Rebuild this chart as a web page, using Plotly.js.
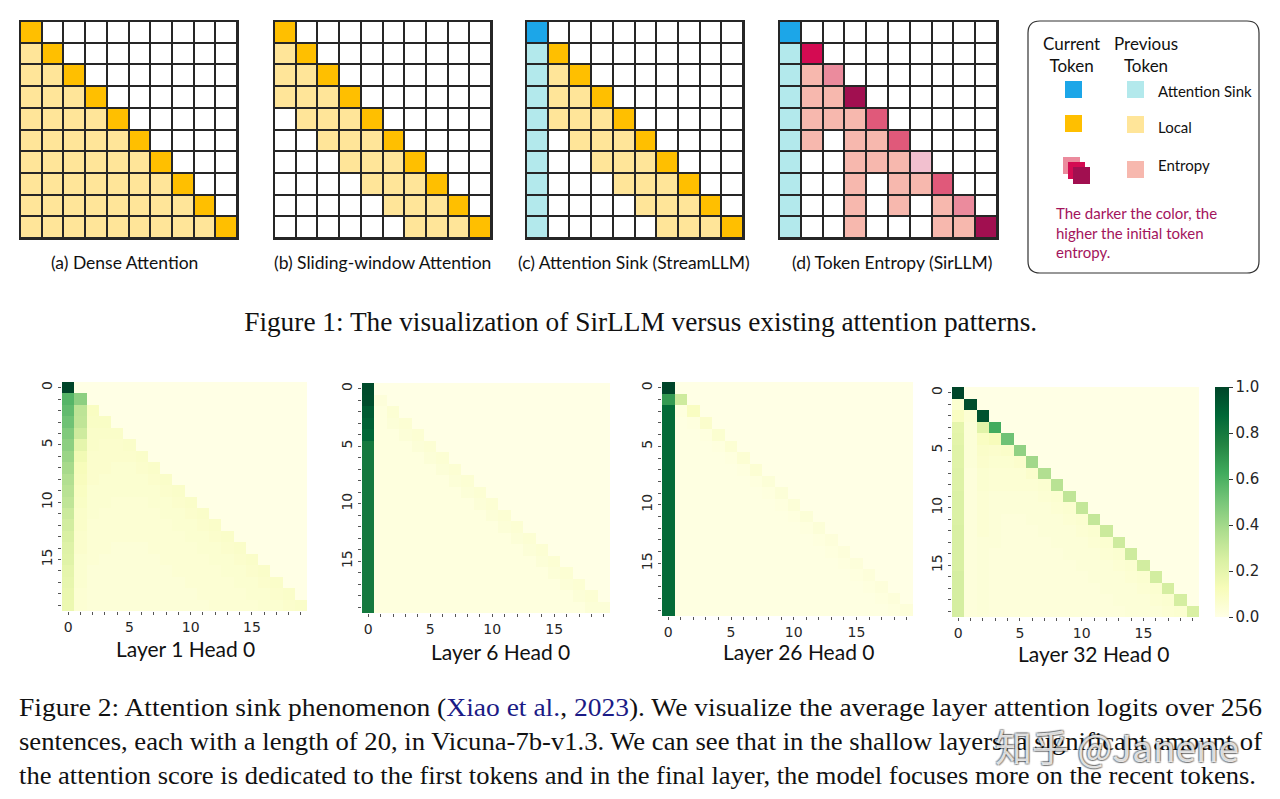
<!DOCTYPE html>
<html>
<head>
<meta charset="utf-8">
<script src="https://cdn.plot.ly/plotly-3.0.1.min.js"></script>
<style>
  html, body { margin: 0; padding: 0; background: #ffffff; }
  #fig { width: 1280px; height: 799px; }
</style>
</head>
<body>
<div id="fig"></div>
<script>
// ---------------------------------------------------------------
// Figure 1: schematic attention patterns on a 10-token sequence
// ---------------------------------------------------------------
const tokens10 = [0, 1, 2, 3, 4, 5, 6, 7, 8, 9];

const patternLabels = [
  '(a) Dense Attention',
  '(b) Sliding-window Attention',
  '(c) Attention Sink (StreamLLM)',
  '(d) Token Entropy (SirLLM)'
];

// cell kinds: 0 empty, 1 local (previous), 2 local (current),
// 3 sink (previous), 4 sink (current), 5 entropy (previous),
// 6..10 entropy (current) shades
const cellKinds = ['empty', 'local', 'localCur', 'sink', 'sinkCur',
                   'entropy', 'entMid', 'entCrimson', 'entDark', 'entHot', 'entPale'];
const cellColors = ['#ffffff', '#ffe599', '#ffbf00', '#b3e9ec', '#1ca6e8',
                    '#f7b8ae', '#eb8b9d', '#d40b52', '#a10f50', '#e0597a', '#f2c0cf'];

const denseCells = [
  [2, 0, 0, 0, 0, 0, 0, 0, 0, 0],
  [1, 2, 0, 0, 0, 0, 0, 0, 0, 0],
  [1, 1, 2, 0, 0, 0, 0, 0, 0, 0],
  [1, 1, 1, 2, 0, 0, 0, 0, 0, 0],
  [1, 1, 1, 1, 2, 0, 0, 0, 0, 0],
  [1, 1, 1, 1, 1, 2, 0, 0, 0, 0],
  [1, 1, 1, 1, 1, 1, 2, 0, 0, 0],
  [1, 1, 1, 1, 1, 1, 1, 2, 0, 0],
  [1, 1, 1, 1, 1, 1, 1, 1, 2, 0],
  [1, 1, 1, 1, 1, 1, 1, 1, 1, 2]
];
const slidingCells = [
  [2, 0, 0, 0, 0, 0, 0, 0, 0, 0],
  [1, 2, 0, 0, 0, 0, 0, 0, 0, 0],
  [1, 1, 2, 0, 0, 0, 0, 0, 0, 0],
  [1, 1, 1, 2, 0, 0, 0, 0, 0, 0],
  [0, 1, 1, 1, 2, 0, 0, 0, 0, 0],
  [0, 0, 1, 1, 1, 2, 0, 0, 0, 0],
  [0, 0, 0, 1, 1, 1, 2, 0, 0, 0],
  [0, 0, 0, 0, 1, 1, 1, 2, 0, 0],
  [0, 0, 0, 0, 0, 1, 1, 1, 2, 0],
  [0, 0, 0, 0, 0, 0, 1, 1, 1, 2]
];
const sinkCells = [
  [4, 0, 0, 0, 0, 0, 0, 0, 0, 0],
  [3, 2, 0, 0, 0, 0, 0, 0, 0, 0],
  [3, 1, 2, 0, 0, 0, 0, 0, 0, 0],
  [3, 1, 1, 2, 0, 0, 0, 0, 0, 0],
  [3, 1, 1, 1, 2, 0, 0, 0, 0, 0],
  [3, 0, 1, 1, 1, 2, 0, 0, 0, 0],
  [3, 0, 0, 1, 1, 1, 2, 0, 0, 0],
  [3, 0, 0, 0, 1, 1, 1, 2, 0, 0],
  [3, 0, 0, 0, 0, 1, 1, 1, 2, 0],
  [3, 0, 0, 0, 0, 0, 1, 1, 1, 2]
];
const entropyCells = [
  [4, 0, 0, 0, 0, 0, 0, 0, 0, 0],
  [3, 7, 0, 0, 0, 0, 0, 0, 0, 0],
  [3, 5, 6, 0, 0, 0, 0, 0, 0, 0],
  [3, 5, 5, 8, 0, 0, 0, 0, 0, 0],
  [3, 5, 5, 5, 9, 0, 0, 0, 0, 0],
  [3, 5, 0, 5, 5, 9, 0, 0, 0, 0],
  [3, 0, 0, 5, 5, 5, 10, 0, 0, 0],
  [3, 0, 0, 5, 0, 5, 5, 9, 0, 0],
  [3, 0, 0, 5, 0, 5, 0, 5, 6, 0],
  [3, 0, 0, 5, 0, 0, 0, 5, 5, 8]
];

// legend of the schematic
const legendHeads = ['Current<br>Token', 'Previous<br>Token'];
const legendNames = ['Attention Sink', 'Local', 'Entropy'];
const legendNote = 'The darker the color, the<br>higher the initial token<br>entropy.';

// ---------------------------------------------------------------
// Figure 2: averaged attention maps, 20 tokens (lower triangle rows)
// ---------------------------------------------------------------
const tokens20 = [0, 1, 2, 3, 4, 5, 6, 7, 8, 9, 10, 11, 12, 13, 14, 15, 16, 17, 18, 19];
const tokenTickText = ['0', '', '', '', '', '5', '', '', '', '', '10', '', '', '', '', '15', '', '', '', ''];
const headTitles = ['Layer 1 Head 0', 'Layer 6 Head 0', 'Layer 26 Head 0', 'Layer 32 Head 0'];
const colorbarTicks = [0, 0.2, 0.4, 0.6, 0.8, 1.0];

const layer1 = [
  [1.00],
  [0.58, 0.45],
  [0.55, 0.33, 0.10],
  [0.52, 0.32, 0.09, 0.09],
  [0.48, 0.28, 0.08, 0.08, 0.08],
  [0.45, 0.20, 0.08, 0.07, 0.07, 0.08],
  [0.42, 0.15, 0.07, 0.07, 0.07, 0.07, 0.08],
  [0.39, 0.12, 0.07, 0.07, 0.06, 0.06, 0.07, 0.08],
  [0.36, 0.11, 0.07, 0.06, 0.06, 0.06, 0.06, 0.07, 0.08],
  [0.34, 0.10, 0.06, 0.06, 0.06, 0.06, 0.06, 0.06, 0.07, 0.08],
  [0.32, 0.09, 0.06, 0.06, 0.05, 0.05, 0.05, 0.06, 0.06, 0.07, 0.08],
  [0.29, 0.08, 0.06, 0.05, 0.05, 0.05, 0.05, 0.05, 0.06, 0.06, 0.07, 0.08],
  [0.27, 0.08, 0.05, 0.05, 0.05, 0.05, 0.05, 0.05, 0.05, 0.06, 0.06, 0.07, 0.08],
  [0.25, 0.07, 0.05, 0.05, 0.05, 0.05, 0.05, 0.05, 0.05, 0.05, 0.06, 0.06, 0.07, 0.08],
  [0.23, 0.07, 0.05, 0.05, 0.04, 0.04, 0.04, 0.05, 0.05, 0.05, 0.05, 0.06, 0.06, 0.07, 0.08],
  [0.22, 0.06, 0.05, 0.04, 0.04, 0.04, 0.04, 0.04, 0.05, 0.05, 0.05, 0.05, 0.06, 0.06, 0.07, 0.08],
  [0.20, 0.06, 0.04, 0.04, 0.04, 0.04, 0.04, 0.04, 0.04, 0.05, 0.05, 0.05, 0.05, 0.06, 0.06, 0.07, 0.08],
  [0.19, 0.06, 0.04, 0.04, 0.04, 0.04, 0.04, 0.04, 0.04, 0.04, 0.05, 0.05, 0.05, 0.05, 0.06, 0.06, 0.07, 0.08],
  [0.18, 0.05, 0.04, 0.04, 0.04, 0.04, 0.04, 0.04, 0.04, 0.04, 0.04, 0.05, 0.05, 0.05, 0.05, 0.06, 0.06, 0.07, 0.08],
  [0.17, 0.05, 0.04, 0.04, 0.04, 0.04, 0.04, 0.04, 0.04, 0.04, 0.04, 0.04, 0.05, 0.05, 0.05, 0.05, 0.06, 0.06, 0.07, 0.08]
];

const layer6 = [
  [0.98],
  [0.97, 0.03],
  [0.92, 0.02, 0.05],
  [0.90, 0.02, 0.04, 0.05],
  [0.88, 0.02, 0.02, 0.04, 0.05],
  [0.80, 0.02, 0.02, 0.02, 0.04, 0.05],
  [0.80, 0.02, 0.02, 0.02, 0.02, 0.04, 0.05],
  [0.80, 0.02, 0.02, 0.02, 0.02, 0.02, 0.04, 0.05],
  [0.80, 0.02, 0.02, 0.02, 0.02, 0.02, 0.02, 0.04, 0.05],
  [0.80, 0.02, 0.02, 0.02, 0.02, 0.02, 0.02, 0.02, 0.04, 0.05],
  [0.80, 0.02, 0.02, 0.02, 0.02, 0.02, 0.02, 0.02, 0.02, 0.04, 0.05],
  [0.80, 0.02, 0.02, 0.02, 0.02, 0.02, 0.02, 0.02, 0.02, 0.02, 0.04, 0.05],
  [0.80, 0.02, 0.02, 0.02, 0.02, 0.02, 0.02, 0.02, 0.02, 0.02, 0.02, 0.04, 0.05],
  [0.80, 0.02, 0.02, 0.02, 0.02, 0.02, 0.02, 0.02, 0.02, 0.02, 0.02, 0.02, 0.04, 0.05],
  [0.80, 0.02, 0.02, 0.02, 0.02, 0.02, 0.02, 0.02, 0.02, 0.02, 0.02, 0.02, 0.02, 0.04, 0.05],
  [0.80, 0.02, 0.02, 0.02, 0.02, 0.02, 0.02, 0.02, 0.02, 0.02, 0.02, 0.02, 0.02, 0.02, 0.04, 0.05],
  [0.80, 0.02, 0.02, 0.02, 0.02, 0.02, 0.02, 0.02, 0.02, 0.02, 0.02, 0.02, 0.02, 0.02, 0.02, 0.04, 0.05],
  [0.80, 0.02, 0.02, 0.02, 0.02, 0.02, 0.02, 0.02, 0.02, 0.02, 0.02, 0.02, 0.02, 0.02, 0.02, 0.02, 0.04, 0.05],
  [0.80, 0.02, 0.02, 0.02, 0.02, 0.02, 0.02, 0.02, 0.02, 0.02, 0.02, 0.02, 0.02, 0.02, 0.02, 0.02, 0.02, 0.04, 0.05],
  [0.80, 0.02, 0.02, 0.02, 0.02, 0.02, 0.02, 0.02, 0.02, 0.02, 0.02, 0.02, 0.02, 0.02, 0.02, 0.02, 0.02, 0.02, 0.04, 0.04]
];

const layer26 = [
  [1.00],
  [0.68, 0.28],
  [0.86, 0.02, 0.10],
  [0.86, 0.01, 0.02, 0.07],
  [0.86, 0.01, 0.01, 0.02, 0.06],
  [0.86, 0.01, 0.01, 0.01, 0.02, 0.05],
  [0.86, 0.01, 0.01, 0.01, 0.01, 0.02, 0.05],
  [0.86, 0.01, 0.01, 0.01, 0.01, 0.01, 0.02, 0.05],
  [0.86, 0.01, 0.01, 0.01, 0.01, 0.01, 0.01, 0.02, 0.04],
  [0.86, 0.01, 0.01, 0.01, 0.01, 0.01, 0.01, 0.01, 0.02, 0.04],
  [0.86, 0.01, 0.01, 0.01, 0.01, 0.01, 0.01, 0.01, 0.01, 0.02, 0.04],
  [0.86, 0.01, 0.01, 0.01, 0.01, 0.01, 0.01, 0.01, 0.01, 0.01, 0.02, 0.04],
  [0.86, 0.01, 0.01, 0.01, 0.01, 0.01, 0.01, 0.01, 0.01, 0.01, 0.01, 0.02, 0.04],
  [0.86, 0.01, 0.01, 0.01, 0.01, 0.01, 0.01, 0.01, 0.01, 0.01, 0.01, 0.01, 0.02, 0.03],
  [0.86, 0.01, 0.01, 0.01, 0.01, 0.01, 0.01, 0.01, 0.01, 0.01, 0.01, 0.01, 0.01, 0.02, 0.03],
  [0.86, 0.01, 0.01, 0.01, 0.01, 0.01, 0.01, 0.01, 0.01, 0.01, 0.01, 0.01, 0.01, 0.01, 0.02, 0.03],
  [0.86, 0.01, 0.01, 0.01, 0.01, 0.01, 0.01, 0.01, 0.01, 0.01, 0.01, 0.01, 0.01, 0.01, 0.01, 0.02, 0.03],
  [0.86, 0.01, 0.01, 0.01, 0.01, 0.01, 0.01, 0.01, 0.01, 0.01, 0.01, 0.01, 0.01, 0.01, 0.01, 0.01, 0.02, 0.03],
  [0.86, 0.01, 0.01, 0.01, 0.01, 0.01, 0.01, 0.01, 0.01, 0.01, 0.01, 0.01, 0.01, 0.01, 0.01, 0.01, 0.01, 0.02, 0.03],
  [0.86, 0.01, 0.01, 0.01, 0.01, 0.01, 0.01, 0.01, 0.01, 0.01, 0.01, 0.01, 0.01, 0.01, 0.01, 0.01, 0.01, 0.01, 0.02, 0.03]
];

const layer32 = [
  [1.00],
  [0.06, 0.97],
  [0.10, 0.05, 0.95],
  [0.20, 0.04, 0.22, 0.62],
  [0.21, 0.04, 0.10, 0.12, 0.52],
  [0.22, 0.04, 0.08, 0.07, 0.08, 0.44],
  [0.22, 0.04, 0.07, 0.06, 0.06, 0.07, 0.40],
  [0.23, 0.03, 0.06, 0.05, 0.05, 0.05, 0.07, 0.36],
  [0.23, 0.03, 0.06, 0.05, 0.05, 0.05, 0.05, 0.06, 0.34],
  [0.24, 0.03, 0.05, 0.04, 0.04, 0.04, 0.04, 0.05, 0.06, 0.32],
  [0.24, 0.03, 0.05, 0.04, 0.04, 0.04, 0.04, 0.04, 0.05, 0.06, 0.31],
  [0.24, 0.03, 0.05, 0.04, 0.03, 0.03, 0.04, 0.04, 0.04, 0.05, 0.06, 0.31],
  [0.25, 0.03, 0.05, 0.04, 0.03, 0.03, 0.03, 0.04, 0.04, 0.04, 0.05, 0.06, 0.29],
  [0.25, 0.03, 0.04, 0.04, 0.03, 0.03, 0.03, 0.03, 0.04, 0.04, 0.04, 0.05, 0.06, 0.28],
  [0.25, 0.03, 0.04, 0.03, 0.03, 0.03, 0.03, 0.03, 0.03, 0.04, 0.04, 0.04, 0.05, 0.06, 0.28],
  [0.25, 0.03, 0.04, 0.03, 0.03, 0.03, 0.03, 0.03, 0.03, 0.03, 0.04, 0.04, 0.04, 0.05, 0.06, 0.27],
  [0.26, 0.03, 0.04, 0.03, 0.03, 0.03, 0.03, 0.03, 0.03, 0.03, 0.03, 0.04, 0.04, 0.04, 0.05, 0.06, 0.27],
  [0.26, 0.03, 0.04, 0.03, 0.03, 0.03, 0.03, 0.03, 0.03, 0.03, 0.03, 0.03, 0.04, 0.04, 0.04, 0.05, 0.06, 0.26],
  [0.26, 0.03, 0.04, 0.03, 0.03, 0.03, 0.03, 0.03, 0.03, 0.03, 0.03, 0.03, 0.03, 0.04, 0.04, 0.04, 0.05, 0.06, 0.26],
  [0.26, 0.03, 0.04, 0.03, 0.03, 0.03, 0.03, 0.03, 0.03, 0.03, 0.03, 0.03, 0.03, 0.03, 0.04, 0.04, 0.04, 0.05, 0.06, 0.25]
];

// matplotlib "YlGn"
const ylGn = [
  [0.000, '#ffffe5'], [0.125, '#f7fcb9'], [0.250, '#d9f0a3'],
  [0.375, '#addd8e'], [0.500, '#78c679'], [0.625, '#41ab5d'],
  [0.750, '#238443'], [0.875, '#006837'], [1.000, '#004529']
];

const figure1Caption = 'Figure 1: The visualization of SirLLM versus existing attention patterns.';
const linkColor = '#1b1b86';
const figure2Lines = [
  'Figure 2: Attention sink phenomenon (<span style="color:' + linkColor + '">Xiao et al.</span>, <span style="color:' + linkColor + '">2023</span>). We visualize the average layer attention logits over 256',
  'sentences, each with a length of 20, in Vicuna-7b-v1.3. We can see that in the shallow layers, a significant amount of',
  'the attention score is dedicated to the first tokens and in the final layer, the model focuses more on the recent tokens.'
];
const watermark = '知乎 @Janene';

// ---------------------------------------------------------------
// layout helpers (pixel -> paper)
// ---------------------------------------------------------------
const W = 1280, H = 799;
const px = x => x / W;
const py = y => 1 - y / H;

const SANS = 'Lato, "Open Sans", sans-serif';
const SERIF = '"Liberation Serif", "Times New Roman", serif';
const TICKFONT = { family: '"DejaVu Sans", sans-serif', size: 14, color: '#262626' };

// discrete colour scale for the schematic cell kinds
const nKinds = cellColors.length;
const kindScale = [];
cellColors.forEach((c, k) => {
  kindScale.push([k / nKinds, c]);
  kindScale.push([(k + 1) / nKinds, c]);
});

const grids = [denseCells, slidingCells, sinkCells, entropyCells];
const gridBoxes = [[20, 237], [274, 491], [526, 743], [779, 997]];
const gridTop = 21, gridBottom = 238;
const labelCenters = [124, 382, 634, 892];

const heatmaps = [layer1, layer6, layer26, layer32];
const heatBoxes = [
  { x0: 62, x1: 307, y0: 382, y1: 611 },
  { x0: 362, x1: 610, y0: 383, y1: 613 },
  { x0: 662, x1: 913, y0: 382, y1: 616 },
  { x0: 952, x1: 1199, y0: 387, y1: 617 }
];
const headTitlePos = [[185, 648], [500, 651], [798, 651], [1093, 653]];

// causal mask: the upper triangle is zero
const fullMatrix = rows => rows.map(r => r.concat(tokens20.slice(r.length).map(() => 0)));

const data = [];
const layout = {
  width: W, height: H,
  margin: { l: 0, r: 0, t: 0, b: 0 },
  paper_bgcolor: '#ffffff',
  plot_bgcolor: '#262626',
  showlegend: false,
  annotations: [],
  shapes: []
};

// schematic grids
grids.forEach((cells, i) => {
  const n = i + 1;
  data.push({
    type: 'heatmap',
    x: tokens10, y: tokens10, z: cells,
    zmin: -0.5, zmax: nKinds - 0.5,
    colorscale: kindScale,
    showscale: false,
    xgap: 2, ygap: 2,
    hoverinfo: 'skip',
    xaxis: 'x' + n, yaxis: 'y' + n
  });
  const base = {
    showgrid: false, zeroline: false, showticklabels: false, ticks: '',
    showline: true, mirror: true, linecolor: '#262626', linewidth: 1.5
  };
  layout['xaxis' + n] = Object.assign({}, base, {
    domain: [px(gridBoxes[i][0]), px(gridBoxes[i][1])],
    range: [-0.5, 9.5], anchor: 'y' + n
  });
  layout['yaxis' + n] = Object.assign({}, base, {
    domain: [py(gridBottom), py(gridTop)],
    range: [9.5, -0.5], anchor: 'x' + n
  });
  layout.annotations.push({
    xref: 'paper', yref: 'paper', x: px(labelCenters[i]), y: py(262),
    text: patternLabels[i], showarrow: false, xanchor: 'center', yanchor: 'middle',
    font: { family: SANS, size: 17.5, color: '#111111' }
  });
});

// legend box of the schematic
(function () {
  const x0 = px(1028), x1 = px(1259), y0 = py(273), y1 = py(21);
  const rx = 12 / W, ry = 12 / H;
  layout.shapes.push({
    type: 'path', xref: 'paper', yref: 'paper',
    path: `M ${x0 + rx} ${y1} L ${x1 - rx} ${y1} Q ${x1} ${y1} ${x1} ${y1 - ry} ` +
          `L ${x1} ${y0 + ry} Q ${x1} ${y0} ${x1 - rx} ${y0} L ${x0 + rx} ${y0} ` +
          `Q ${x0} ${y0} ${x0} ${y0 + ry} L ${x0} ${y1 - ry} Q ${x0} ${y1} ${x0 + rx} ${y1} Z`,
    line: { color: '#333333', width: 1.2 }, fillcolor: 'rgba(0,0,0,0)'
  });
  const sq = (x, y, color) => layout.shapes.push({
    type: 'rect', xref: 'paper', yref: 'paper',
    x0: px(x), x1: px(x + 17), y0: py(y + 17), y1: py(y),
    fillcolor: color, line: { width: 0 }
  });
  // current token swatches
  sq(1065, 81, cellColors[4]);
  sq(1065, 115, cellColors[2]);
  sq(1063, 157, cellColors[6]);
  sq(1068, 162, cellColors[7]);
  sq(1073, 167, cellColors[8]);
  // previous token swatches
  sq(1127, 81, cellColors[3]);
  sq(1127, 116, cellColors[1]);
  sq(1127, 161, cellColors[5]);

  const lf = { family: SANS, size: 17, color: '#111111' };
  layout.annotations.push(
    { xref: 'paper', yref: 'paper', x: px(1071), y: py(55), text: legendHeads[0], showarrow: false,
      xanchor: 'center', yanchor: 'middle', align: 'center', font: lf },
    { xref: 'paper', yref: 'paper', x: px(1146), y: py(55), text: legendHeads[1], showarrow: false,
      xanchor: 'center', yanchor: 'middle', align: 'center', font: lf }
  );
  const nameY = [91, 127, 165];
  legendNames.forEach((t, k) => layout.annotations.push({
    xref: 'paper', yref: 'paper', x: px(1156), y: py(nameY[k]), text: t, showarrow: false,
    xanchor: 'left', yanchor: 'middle', font: { family: SANS, size: 15, color: '#111111' }
  }));
  layout.annotations.push({
    xref: 'paper', yref: 'paper', x: px(1054), y: py(233), text: legendNote, showarrow: false,
    xanchor: 'left', yanchor: 'middle', align: 'left',
    font: { family: SANS, size: 15, color: '#a3145c' }
  });
})();

// captions are stretched to their justified line widths after drawing
const justify = [];

// Figure 1 caption
justify.push({ index: layout.annotations.length, width: 793 });
layout.annotations.push({
  xref: 'paper', yref: 'paper', x: px(640), y: py(322), text: figure1Caption, showarrow: false,
  xanchor: 'center', yanchor: 'middle',
  font: { family: SERIF, size: 26.5, color: '#111111' }
});

// attention heatmaps
heatmaps.forEach((rows, i) => {
  const n = i + 5;
  const b = heatBoxes[i];
  const trace = {
    type: 'heatmap',
    x: tokens20, y: tokens20, z: fullMatrix(rows),
    zmin: 0, zmax: 1,
    colorscale: ylGn,
    showscale: i === 3,
    hoverinfo: 'skip',
    xaxis: 'x' + n, yaxis: 'y' + n
  };
  if (i === 3) {
    trace.colorbar = {
      x: px(1215), xanchor: 'left', xref: 'paper',
      y: py((387 + 617) / 2), yanchor: 'middle', yref: 'paper',
      thickness: 14, thicknessmode: 'pixels',
      len: 230, lenmode: 'pixels',
      xpad: 0, ypad: 0,
      outlinewidth: 0,
      tickvals: colorbarTicks, tickformat: '.1f',
      ticks: 'outside', ticklen: 4, tickcolor: '#333333',
      tickfont: { family: '"DejaVu Sans", sans-serif', size: 15, color: '#262626' }
    };
  }
  data.push(trace);
  const axBase = {
    showgrid: false, zeroline: false, showline: false,
    ticks: 'outside', ticklen: 3, tickwidth: 1, tickcolor: '#555555',
    tickvals: tokens20, ticktext: tokenTickText, tickfont: TICKFONT
  };
  layout['xaxis' + n] = Object.assign({}, axBase, {
    domain: [px(b.x0), px(b.x1)], range: [-0.5, 19.5], anchor: 'y' + n
  });
  layout['yaxis' + n] = Object.assign({}, axBase, {
    domain: [py(b.y1), py(b.y0)], range: [19.5, -0.5], anchor: 'x' + n, tickangle: -90
  });
  layout.annotations.push({
    xref: 'paper', yref: 'paper', x: px(headTitlePos[i][0]), y: py(headTitlePos[i][1]),
    text: headTitles[i], showarrow: false, xanchor: 'center', yanchor: 'middle',
    font: { family: SANS, size: 21, color: '#111111' }
  });
});

// Figure 2 caption
const capY = [707, 741, 775];
const capWidths = [1243, 1243, 1237];
figure2Lines.forEach((t, k) => {
  justify.push({ index: layout.annotations.length, width: capWidths[k] });
  layout.annotations.push({
    xref: 'paper', yref: 'paper', x: px(17), y: py(capY[k]), text: t, showarrow: false,
    xanchor: 'left', yanchor: 'middle', align: 'left',
    font: { family: SERIF, size: 26, color: '#111111' }
  });
});

// site watermark
layout.annotations.push({
  xref: 'paper', yref: 'paper', x: px(1117), y: py(746), text: watermark, showarrow: false,
  xanchor: 'center', yanchor: 'middle',
  font: { family: '"Noto Sans CJK SC", sans-serif', size: 37, color: 'rgba(255,255,255,0.82)',
          shadow: '1px 1px 1px rgba(0,0,0,0.4), -1px -1px 1px rgba(0,0,0,0.4), 1px -1px 1px rgba(0,0,0,0.4), -1px 1px 1px rgba(0,0,0,0.4)' }
});

Plotly.newPlot('fig', data, layout, { staticPlot: true, displayModeBar: false }).then(gd => {
  justify.forEach(j => {
    const g = gd.querySelector('.annotation[data-index="' + j.index + '"] text.annotation-text');
    if (g) {
      g.setAttribute('textLength', j.width);
      g.setAttribute('lengthAdjust', 'spacingAndGlyphs');
    }
  });
});
</script>
</body>
</html>
